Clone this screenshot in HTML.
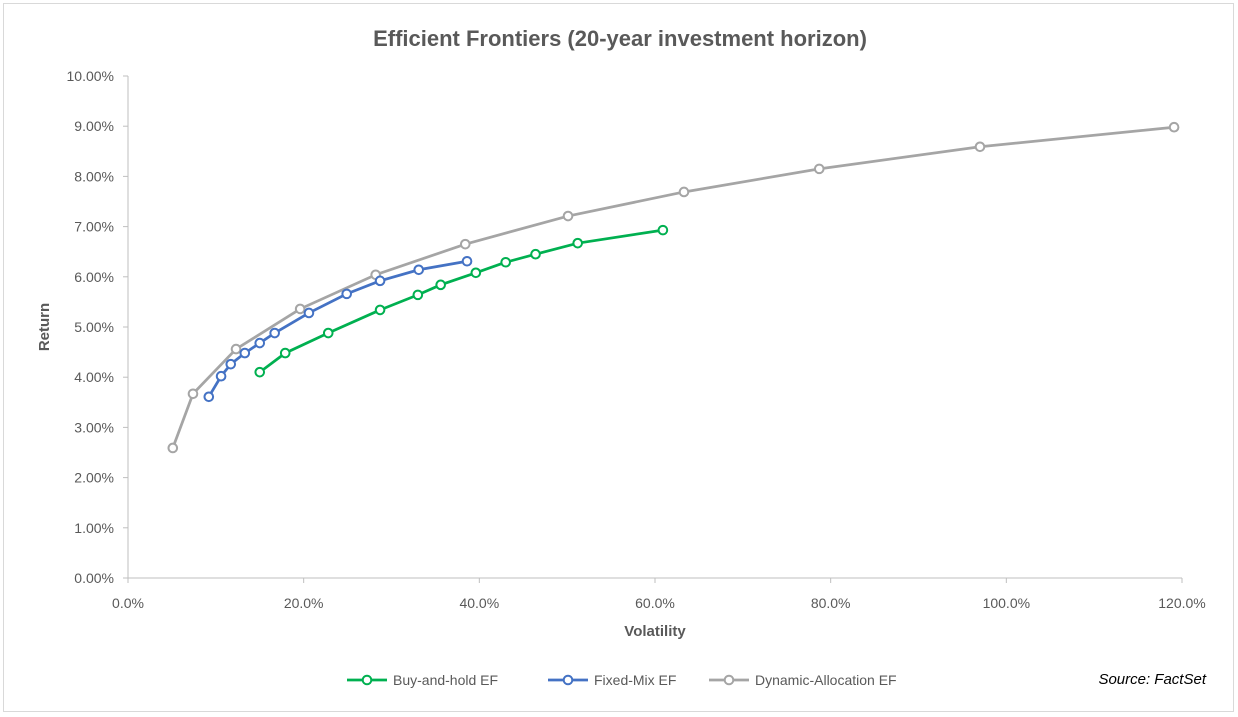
<!DOCTYPE html>
<html><head><meta charset="utf-8"><style>
body{margin:0;background:#fff;}
svg{display:block;font-family:"Liberation Sans",sans-serif;}
</style></head><body>
<svg width="1238" height="717">
<rect x="3.5" y="3.5" width="1230" height="708" fill="#fff" stroke="#d9d9d9"/>
<text x="620" y="46" text-anchor="middle" font-size="22" font-weight="bold" fill="#595959">Efficient Frontiers (20-year investment horizon)</text>
<g id="axes"></g>
<g id="series"></g>
<text x="655" y="636" text-anchor="middle" font-size="15" font-weight="bold" fill="#595959">Volatility</text>
<text transform="translate(49,327) rotate(-90)" text-anchor="middle" font-size="15" font-weight="bold" fill="#595959">Return</text>
<g id="legend"></g>
<text x="1206" y="684" text-anchor="end" font-size="15" font-style="italic" fill="#000">Source: FactSet</text>
</svg>
<script>
const xTicks=[0,20,40,60,80,100,120];
const yTicks=[0,1,2,3,4,5,6,7,8,9,10];
const seriesNames=["Buy-and-hold EF","Fixed-Mix EF","Dynamic-Allocation EF"];
const seriesColors=["#00b050","#4472c4","#a5a5a5"];
const buyHoldX=[15.0,17.9,22.8,28.7,33.0,35.6,39.6,43.0,46.4,51.2,60.9];
const buyHoldY=[4.10,4.48,4.88,5.34,5.64,5.84,6.08,6.29,6.45,6.67,6.93];
const fixedMixX=[9.2,10.6,11.7,13.3,15.0,16.7,20.6,24.9,28.7,33.1,38.6];
const fixedMixY=[3.61,4.02,4.26,4.48,4.68,4.88,5.28,5.66,5.92,6.14,6.31];
const dynamicX=[5.1,7.4,12.3,19.6,28.2,38.4,50.1,63.3,78.7,97.0,119.1];
const dynamicY=[2.59,3.67,4.56,5.36,6.04,6.65,7.21,7.69,8.15,8.59,8.98];

const NS="http://www.w3.org/2000/svg";
const L=128,R=1182,T=76,B=578;
const sx=v=>L+(v/120)*(R-L);
const sy=v=>B-(v/10)*(B-T);
function mk(tag,attrs,parent){const e=document.createElementNS(NS,tag);for(const k in attrs)e.setAttribute(k,attrs[k]);parent.appendChild(e);return e;}
const axes=document.getElementById('axes');
const xl=mk('line',{x1:L,x2:R,y1:B,y2:B,stroke:'#bfbfbf'},axes);


const yl=mk('line',{x1:L,x2:L,y1:T,y2:B,stroke:'#bfbfbf'},axes);


yTicks.forEach(v=>{
  const tk=mk('line',{x1:L-5,x2:L,y1:sy(v),y2:sy(v),stroke:'#bfbfbf'},axes);
  
  
  const t=mk('text',{x:L-14,y:sy(v)+5,'text-anchor':'end','font-size':14,fill:'#595959'},axes);
  t.textContent=v.toFixed(2)+'%';
  
  
});
xTicks.forEach(v=>{
  const tk=mk('line',{x1:sx(v),x2:sx(v),y1:B,y2:B+5,stroke:'#bfbfbf'},axes);
  
  
  const t=mk('text',{x:sx(v),y:B+30,'text-anchor':'middle','font-size':14,fill:'#595959'},axes);
  t.textContent=v.toFixed(1)+'%';
  
  
});
const data=[[buyHoldX,buyHoldY],[fixedMixX,fixedMixY],[dynamicX,dynamicY]];
const sg=document.getElementById('series');
[2,1,0].forEach(i=>{
  const g=mk('g',{},sg);
  
  
  const [xs,ys]=data[i];
  const pts=xs.map((x,j)=>sx(x)+','+sy(ys[j])).join(' ');
  const pl=mk('polyline',{points:pts,fill:'none',stroke:seriesColors[i],'stroke-width':2.75},g);
  
  
  xs.forEach((x,j)=>{
    const c=mk('circle',{cx:sx(x),cy:sy(ys[j]),r:4.3,fill:'#fff',stroke:seriesColors[i],'stroke-width':2},g);
    
    
  });
});
const lg=document.getElementById('legend');
const lx=[347,548,709];
seriesNames.forEach((n,i)=>{
  const g=mk('g',{},lg);
  
  
  mk('line',{x1:lx[i],x2:lx[i]+40,y1:680,y2:680,stroke:seriesColors[i],'stroke-width':2.75},g);
  mk('circle',{cx:lx[i]+20,cy:680,r:4.3,fill:'#fff',stroke:seriesColors[i],'stroke-width':2},g);
  const t=mk('text',{x:lx[i]+46,y:685,'font-size':14,fill:'#595959'},g);
  t.textContent=n;
});
</script>
</body></html>
